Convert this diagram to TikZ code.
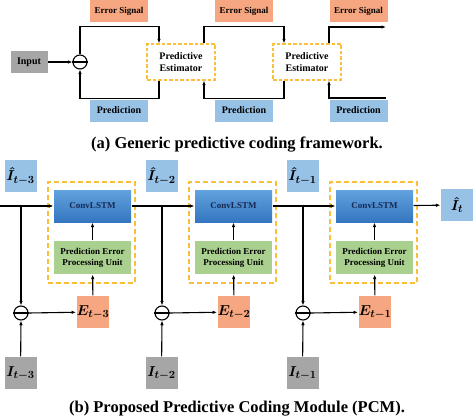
\documentclass[tikz,border=0pt]{standalone}
\usepackage{amsmath}
\usepackage{fontspec}
\setmainfont{Liberation Serif}
\usetikzlibrary{arrows.meta}

\definecolor{errc}{RGB}{246,166,128}
\definecolor{predc}{RGB}{152,193,230}
\definecolor{inc}{RGB}{166,166,166}
\definecolor{estc}{RGB}{250,192,60}
\definecolor{lstmtop}{RGB}{98,162,222}
\definecolor{lstmbot}{RGB}{52,118,192}
\definecolor{pepuc}{RGB}{169,208,142}
\definecolor{lstmtxt}{RGB}{25,40,80}

\begin{document}
\begin{tikzpicture}[x=1pt,y=-1pt,>={Latex[length=4.5pt,width=3.5pt]}]

      \tikzstyle{every node}=[inner sep=0pt,font=\bfseries\fontsize{10}{12}\selectfont]
      \tikzstyle{every path}=[line width=1.1pt]
      \tikzstyle{tag}=[minimum width=58pt,minimum height=22pt]
      \tikzstyle{est}=[draw=estc,dash pattern=on 3.5pt off 2pt,line width=1.2pt,
                       minimum width=68pt,minimum height=36pt,align=center]
      \tikzstyle{subtr}=[draw,circle,minimum size=14pt]
      \tikzstyle{sq}=[minimum size=32pt,font=\fontsize{15}{17}\selectfont]
      \tikzstyle{pcm}=[draw=estc,dash pattern=on 5pt off 3pt,line width=1.2pt,
                       minimum width=87pt,minimum height=101pt]
      \tikzstyle{lstm}=[top color=lstmtop,bottom color=lstmbot,minimum width=77pt,
                        minimum height=32pt,text=lstmtxt,font=\bfseries\fontsize{9}{11}\selectfont]
      \tikzstyle{pepu}=[fill=pepuc,minimum width=77pt,minimum height=33pt,align=center,
                        font=\bfseries\fontsize{9}{11}\selectfont]
      \tikzstyle{caption}=[font=\bfseries\fontsize{16.5}{19}\selectfont]

      \useasboundingbox (0,0) rectangle (474,420);

      % (a) generic framework
      \node (input) [fill=inc,minimum width=37pt,minimum height=22pt] at (29,62) {Input};
      \node (s) [subtr] at (80,62) {};
      \node (est1) [est] at (181,62) {Predictive\\Estimator};
      \node (est2) [est] at (307,62) {Predictive\\Estimator};
      \node (err1) [tag,fill=errc,font=\bfseries\fontsize{9}{11}\selectfont] at (119,11.5) {Error Signal};
      \node (err2) [tag,fill=errc,font=\bfseries\fontsize{9}{11}\selectfont] at (244,11.5) {Error Signal};
      \node (err3) [tag,fill=errc,font=\bfseries\fontsize{9}{11}\selectfont] at (358.5,11.5) {Error Signal};
      \node (pred1) [tag,fill=predc] at (119,110.5) {Prediction};
      \node (pred2) [tag,fill=predc] at (244,110.5) {Prediction};
      \node (pred3) [tag,fill=predc] at (358.5,110.5) {Prediction};
      \coordinate (out) at (386,27);
      \coordinate (in) at (386,98);

      \draw (s.west) -- (s.east);
      \draw[->] (input) -- (s.west);
      \draw[->] (s.north) -- ++(0,-28) -| ([xshift=-22pt]est1.north);
      \draw[->] ([xshift=-22pt]est1.south) -- ++(0,18) -| (s.south);
      \draw[->] ([xshift=23pt]est1.north) -- ++(0,-17) -| ([xshift=-23pt]est2.north);
      \draw[->] ([xshift=-23pt]est2.south) -- ++(0,18) -| ([xshift=23pt]est1.south);
      \draw[->] ([xshift=22pt]est2.north) |- (out);
      \draw[->] (in) -| ([xshift=22pt]est2.south);

      \node (capa) [caption] at (237,145) {(a) Generic predictive coding framework.};

      % (b) predictive coding module
      \foreach \i/\k in {0/3,1/2,2/1} {
        \begin{scope}[xshift=\i*141pt]
          \node (box\i) [pcm] at (91.5,232.5) {};
          \node (lstm\i) [lstm] at (92.5,206) {ConvLSTM};
          \node (pepu\i) [pepu] at (92.5,257.5) {Prediction Error\\Processing Unit};
          \node (e\i) [sq,fill=errc] at (93,312) {$\boldsymbol{E_{t-\k}}$};
          \node (c\i) [subtr] at (21,313) {};
          \node (hat\i) [sq,fill=predc] at (20.5,176) {$\boldsymbol{\hat{I}_{t-\k}}$};
          \node (img\i) [sq,fill=inc] at (20.5,373) {$\boldsymbol{I_{t-\k}}$};
        \end{scope}
        \draw (c\i.west) -- (c\i.east);
        \draw[->] (c\i |- lstm\i.west) -- (c\i.north);
        \draw[->] (img\i) -- (c\i.south);
        \draw[->] (c\i.east) -- (e\i);
        \draw[->] (e\i) -- (pepu\i);
        \draw[->] (pepu\i) -- (lstm\i);
      }
      \node (hat) [sq,fill=predc] at (457,205) {$\boldsymbol{\hat{I}_{t}}$};
      \coordinate (start) at (0,206);

      \draw[->] (start) -- (lstm0);
      \draw[->] (lstm0) -- (lstm1);
      \draw[->] (lstm1) -- (lstm2);
      \draw[->] (lstm2) -- (hat);

      \node (capb) [caption] at (237,409) {(b) Proposed Predictive Coding Module (PCM).};

    \end{tikzpicture}
\end{document}
